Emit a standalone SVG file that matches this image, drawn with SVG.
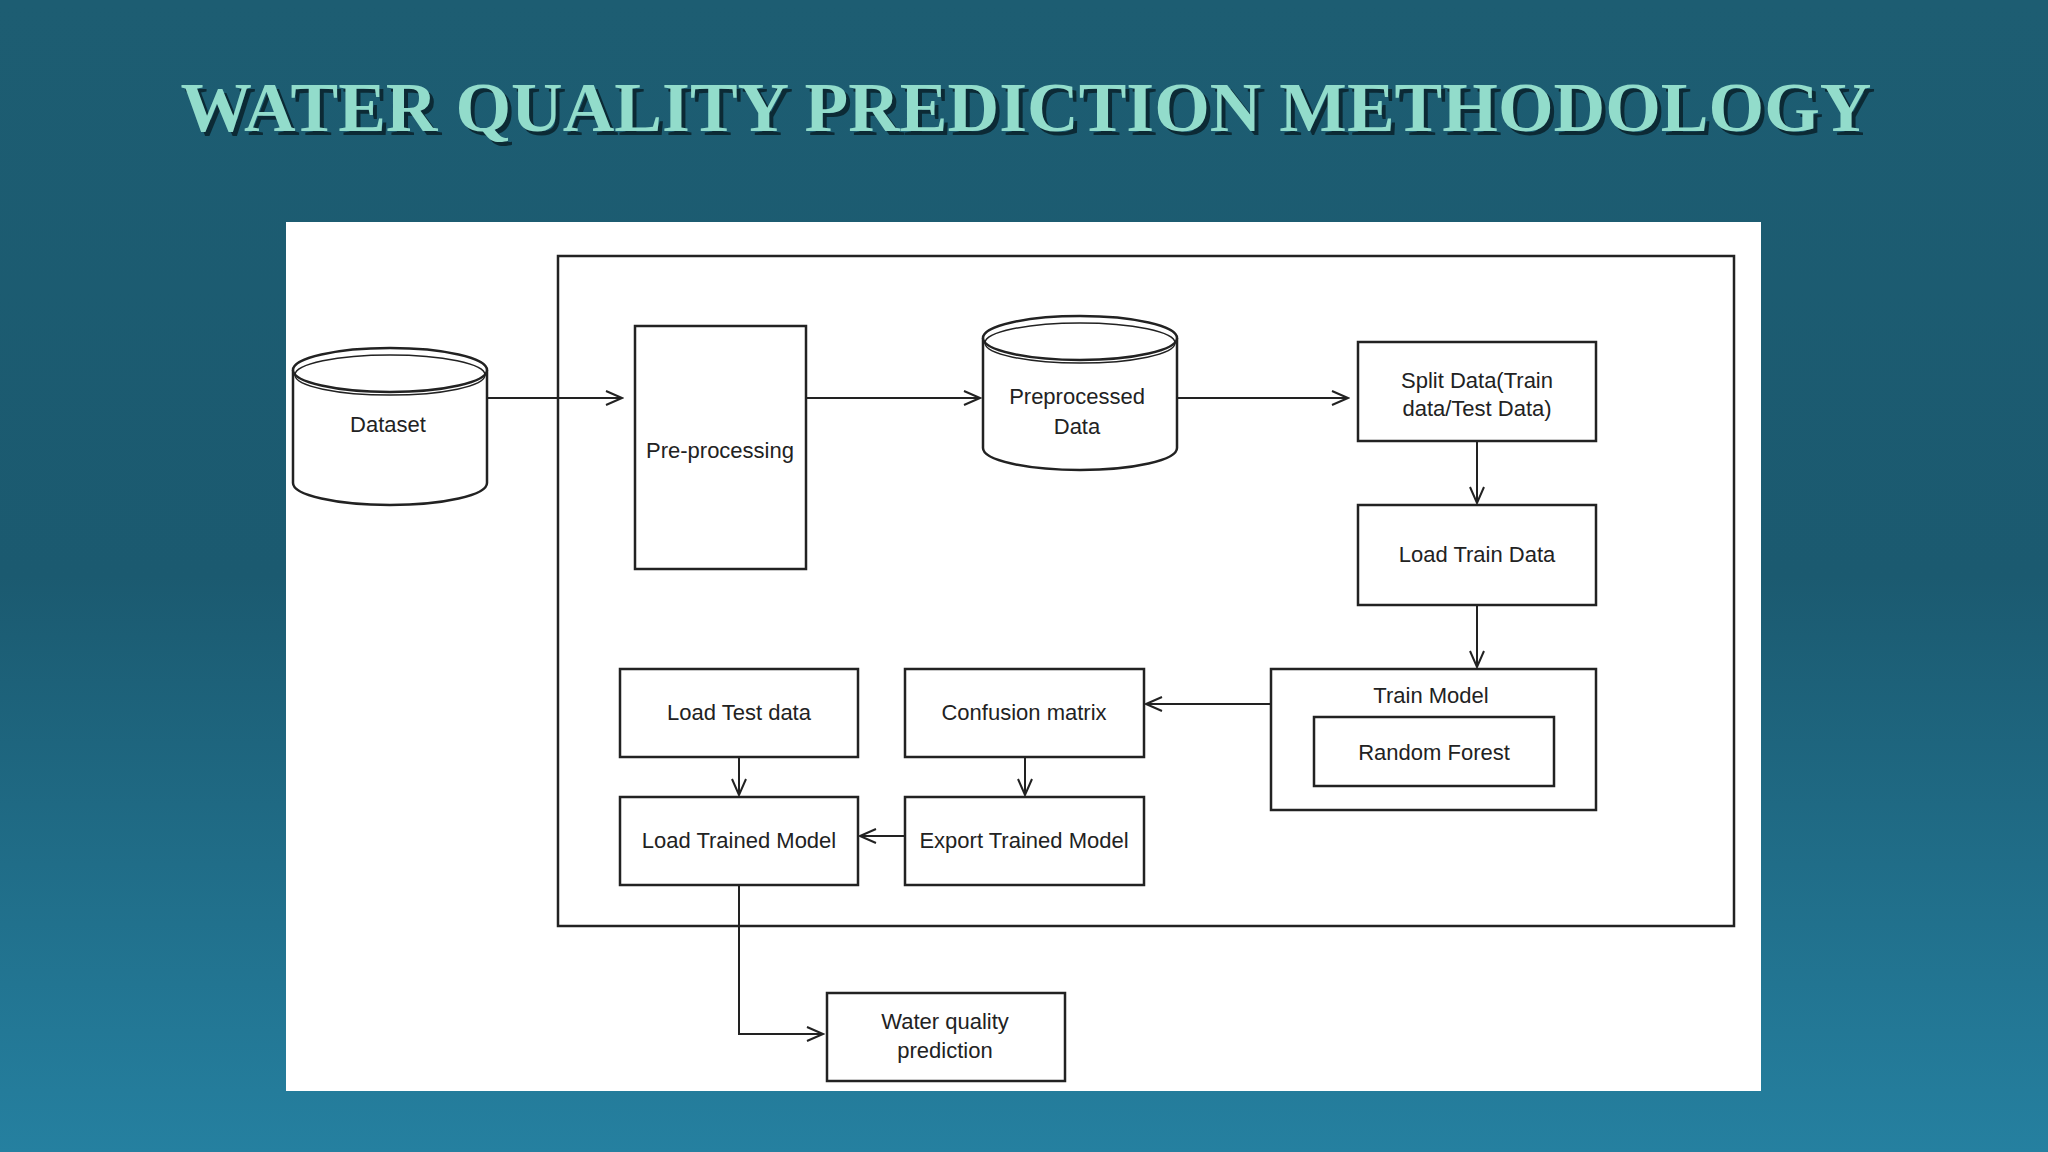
<svg xmlns="http://www.w3.org/2000/svg" width="2048" height="1152" viewBox="0 0 2048 1152">
<defs>
<linearGradient id="bg" x1="0" y1="0" x2="0" y2="1">
<stop offset="0" stop-color="#1d5d72"/><stop offset="0.5" stop-color="#1b5a70"/><stop offset="1" stop-color="#2580a0"/>
</linearGradient>
<marker id="ah" markerWidth="20" markerHeight="16" refX="18" refY="8" orient="auto" markerUnits="userSpaceOnUse">
<path d="M2,1 L18,8 L2,15" fill="none" stroke="#222" stroke-width="2"/>
</marker>
</defs>
<style>
.b{fill:#fff;stroke:#222;stroke-width:2.5}
.t{font-family:"Liberation Sans",Arial,sans-serif;font-size:22px;fill:#222;text-anchor:middle}
.c{fill:none;stroke:#222;stroke-width:2;marker-end:url(#ah)}
</style>
<rect width="2048" height="1152" fill="url(#bg)"/>
<text x="1026" y="131" font-family="'Liberation Serif','DejaVu Serif',serif" font-weight="bold" font-size="70" fill="#0c2a35" text-anchor="middle" textLength="1691" lengthAdjust="spacingAndGlyphs" transform="translate(4,4)">WATER QUALITY PREDICTION METHODOLOGY</text>
<text x="1026" y="131" font-family="'Liberation Serif','DejaVu Serif',serif" font-weight="bold" font-size="70" fill="#92dccb" text-anchor="middle" textLength="1691" lengthAdjust="spacingAndGlyphs">WATER QUALITY PREDICTION METHODOLOGY</text>
<rect x="286" y="222" width="1475" height="869" fill="#fff"/>
<rect x="558" y="256" width="1176" height="670" fill="none" stroke="#222" stroke-width="2.5"/>
<g id="dataset">
<path class="b" d="M293,370 L293,483 A97,22 0 0 0 487,483 L487,370"/>
<ellipse class="b" cx="390" cy="370" rx="97" ry="22"/>
<ellipse cx="390" cy="375" rx="95" ry="20" fill="none" stroke="#222" stroke-width="1.5"/>
<text class="t" x="388" y="432">Dataset</text>
</g>
<g id="preprocessing"><rect class="b" x="635" y="326" width="171" height="243"/><text class="t" x="720" y="458">Pre-processing</text></g>
<g id="preprocessed">
<path class="b" d="M983,338 L983,448 A97,22 0 0 0 1177,448 L1177,338"/>
<ellipse class="b" cx="1080" cy="338" rx="97" ry="22"/>
<ellipse cx="1080" cy="343" rx="95" ry="20" fill="none" stroke="#222" stroke-width="1.5"/>
<text class="t" x="1077" y="404">Preprocessed</text><text class="t" x="1077" y="434">Data</text>
</g>
<g id="split"><rect class="b" x="1358" y="342" width="238" height="99"/><text class="t" x="1477" y="388">Split Data(Train</text><text class="t" x="1477" y="416">data/Test Data)</text></g>
<g id="loadtrain"><rect class="b" x="1358" y="505" width="238" height="100"/><text class="t" x="1477" y="562">Load Train Data</text></g>
<g id="trainmodel"><rect class="b" x="1271" y="669" width="325" height="141"/><text class="t" x="1431" y="703">Train Model</text>
<g id="rf"><rect class="b" x="1314" y="717" width="240" height="69"/><text class="t" x="1434" y="760">Random Forest</text></g></g>
<g id="confusion"><rect class="b" x="905" y="669" width="239" height="88"/><text class="t" x="1024" y="720">Confusion matrix</text></g>
<g id="loadtest"><rect class="b" x="620" y="669" width="238" height="88"/><text class="t" x="739" y="720">Load Test data</text></g>
<g id="export"><rect class="b" x="905" y="797" width="239" height="88"/><text class="t" x="1024" y="848">Export Trained Model</text></g>
<g id="loadtrained"><rect class="b" x="620" y="797" width="238" height="88"/><text class="t" x="739" y="848">Load Trained Model</text></g>
<g id="wqp"><rect class="b" x="827" y="993" width="238" height="88"/><text class="t" x="945" y="1029">Water quality</text><text class="t" x="945" y="1058">prediction</text></g>
<g id="connectors">
<line class="c" x1="487" y1="398" x2="622" y2="398"/>
<line class="c" x1="806" y1="398" x2="980" y2="398"/>
<line class="c" x1="1177" y1="398" x2="1348" y2="398"/>
<line class="c" x1="1477" y1="441" x2="1477" y2="503"/>
<line class="c" x1="1477" y1="605" x2="1477" y2="667"/>
<line class="c" x1="1271" y1="704" x2="1146" y2="704"/>
<line class="c" x1="1025" y1="757" x2="1025" y2="795"/>
<line class="c" x1="739" y1="757" x2="739" y2="795"/>
<line class="c" x1="905" y1="836" x2="860" y2="836"/>
<polyline class="c" points="739,885 739,1034 823,1034"/>
</g>
</svg>
